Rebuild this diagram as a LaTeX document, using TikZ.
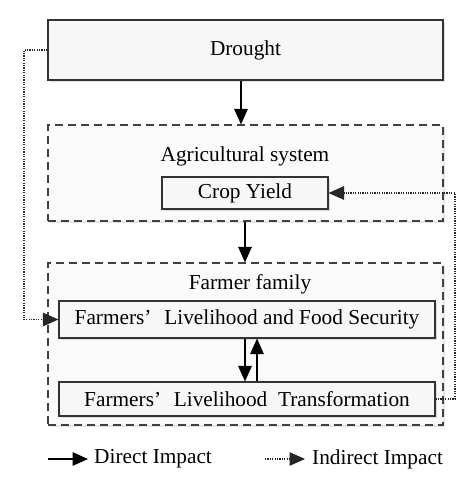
\documentclass[tikz,border=0pt]{standalone}
\usepackage{fontspec}
\setmainfont{Liberation Serif}
\usetikzlibrary{arrows.meta,shadows}
\begin{document}
\begin{tikzpicture}[x=1pt,y=-1pt,
  font=\fontsize{21.3}{25}\selectfont,
  solidbox/.style={draw=black!80, line width=1.1pt, fill=gray!6,
    drop shadow={shadow xshift=2pt, shadow yshift=-2pt, opacity=0.25},
    inner sep=0pt},
  dashbox/.style={draw=black!75, line width=1.1pt, dash pattern=on 8pt off 5pt, fill=gray!4,
    drop shadow={shadow xshift=2pt, shadow yshift=-2pt, opacity=0.2},
    inner sep=0pt},
  arr/.style={line width=1.4pt, -{Triangle[length=15.5pt,width=13.5pt]}},
  dotarr/.style={line width=1.1pt, black!85, dash pattern=on 1.2pt off 1.2pt, -{Triangle[length=15.5pt,width=13.5pt]}},
  lbl/.style={inner sep=0pt}
]
\useasboundingbox (0,0) rectangle (474,484);
\fill[white] (0,0) rectangle (474,484);

\node[solidbox, minimum width=395pt, minimum height=60pt] (drought) at (245.5,50) {Drought};
\node[dashbox, minimum width=395pt, minimum height=96pt] (agri) at (245.5,173) {};
\node[lbl] (agrilbl) at (245,156) {Agricultural system};
\node[solidbox, minimum width=166pt, minimum height=32pt] (crop) at (245,193) {Crop Yield};
\node[dashbox, minimum width=395pt, minimum height=162pt] (family) at (245.5,344) {};
\node[lbl] (famlbl) at (250,284) {Farmer family};
\node[solidbox, minimum width=376pt, minimum height=37pt] (flfs) at (247,319.5) {Farmers’\hspace{0.6em}Livelihood and Food Security};
\node[solidbox, minimum width=376pt, minimum height=34pt] (flt) at (247,399) {Farmers’\hspace{0.6em}Livelihood\hspace{0.5em}Transformation};

\draw[arr] ([xshift=-4.5pt]drought.south) -- ([xshift=-4.5pt]agri.north);
\draw[arr] ([xshift=-0.5pt]agri.south) -- ([xshift=-0.5pt]family.north);
\draw[arr] ([xshift=-2pt]flfs.south) -- ([xshift=-2pt]flt.north);
\draw[arr] ([xshift=10pt]flt.north) -- ([xshift=10pt]flfs.south);

\coordinate (l1) at (24,50);
\coordinate (l2) at (24,319.5);
\draw[dotarr] (drought.west) -- (l1) -- (l2) -- (flfs.west);
\coordinate (r1) at (455,399);
\coordinate (r2) at (455,193);
\draw[dotarr] (flt.east) -- (r1) -- (r2) -- (crop.east);

\coordinate (a1) at (48,459);
\coordinate (a2) at (88,459);
\draw[arr] (a1) -- (a2);
\node[lbl, anchor=west] (direct) at (94,459) {Direct Impact};
\coordinate (b1) at (265,459);
\coordinate (b2) at (305,459);
\draw[dotarr] (b1) -- (b2);
\node[lbl, anchor=west] (indirect) at (312,459) {Indirect Impact};
\end{tikzpicture}
\end{document}
